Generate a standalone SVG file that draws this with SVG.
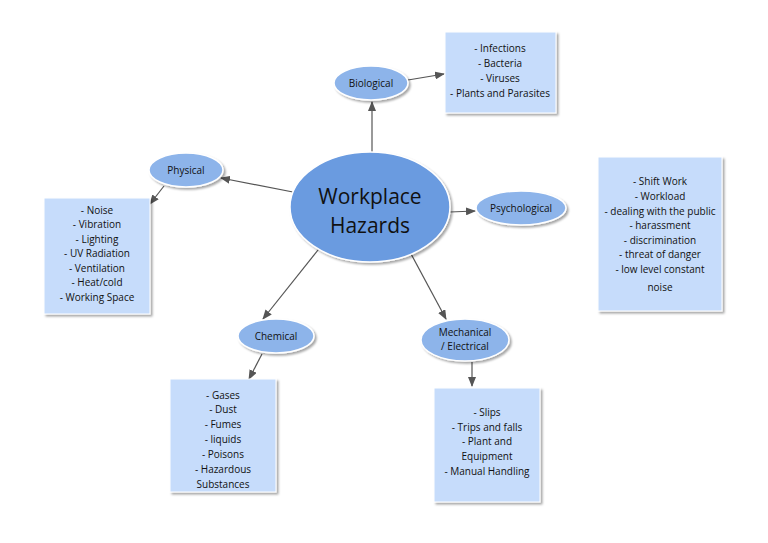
<svg xmlns="http://www.w3.org/2000/svg" width="768" height="543" viewBox="0 0 768 543">
<defs>
<marker id="ah" markerWidth="10" markerHeight="8" refX="9" refY="4" orient="auto" markerUnits="userSpaceOnUse"><path d="M0,0 L10,4 L0,8 z" fill="#555"/></marker>
<filter id="sh" x="-10%" y="-10%" width="130%" height="130%"><feDropShadow dx="2" dy="2" stdDeviation="1.2" flood-color="#000" flood-opacity="0.35"/></filter>
</defs>
<style>
.ell{fill:#8db4ea;stroke:#ffffff;stroke-width:1.5;filter:url(#sh)}
.box{fill:#c6dcfb;stroke:#ffffff;stroke-width:1;filter:url(#sh)}
text{font-family:"Open Sans","DejaVu Sans",sans-serif;fill:#111;text-anchor:middle}
.s{font-size:10px}
.c{stroke:#555;stroke-width:1.2;fill:none;marker-end:url(#ah)}
</style>
<rect width="768" height="543" fill="#fff"/>
<g id="connectors">
<line class="c" x1="372" y1="152" x2="372" y2="102"/>
<line class="c" x1="408" y1="80" x2="444" y2="74"/>
<line class="c" x1="298" y1="193" x2="221" y2="178"/>
<line class="c" x1="164" y1="186" x2="150" y2="204"/>
<line class="c" x1="450" y1="212" x2="475" y2="211"/>
<line class="c" x1="322" y1="245" x2="263" y2="319"/>
<line class="c" x1="262" y1="354" x2="249" y2="379"/>
<line class="c" x1="410" y1="252" x2="446" y2="319"/>
<line class="c" x1="472" y1="362" x2="472" y2="386"/>
</g>
<g id="center"><ellipse class="ell" cx="370" cy="207" rx="80" ry="55" fill="#6b9be0" style="fill:#6b9be0"/>
<text x="370" y="204" font-size="21">Workplace</text><text x="370" y="233" font-size="21">Hazards</text></g>
<g id="biological"><ellipse class="ell" cx="371" cy="83" rx="37" ry="17"/><text class="s" x="371" y="87">Biological</text></g>
<g id="bio-box"><rect class="box" x="445" y="32" width="111" height="81"/>
<text class="s" x="500" y="52">- Infections</text><text class="s" x="500" y="67">- Bacteria</text><text class="s" x="500" y="82">- Viruses</text><text class="s" x="500" y="97">- Plants and Parasites</text></g>
<g id="physical"><ellipse class="ell" cx="186" cy="170" rx="37" ry="17"/><text class="s" x="186" y="174">Physical</text></g>
<g id="phys-box"><rect class="box" x="44" y="198" width="106" height="116"/>
<text class="s" x="97" y="214">- Noise</text><text class="s" x="97" y="228">- Vibration</text><text class="s" x="97" y="243">- Lighting</text><text class="s" x="97" y="257">- UV Radiation</text><text class="s" x="97" y="272">- Ventilation</text><text class="s" x="97" y="286">- Heat/cold</text><text class="s" x="97" y="301">- Working Space</text></g>
<g id="psychological"><ellipse class="ell" cx="521" cy="208" rx="45" ry="17"/><text class="s" x="521" y="212">Psychological</text></g>
<g id="psych-box"><rect class="box" x="598" y="157" width="124" height="154"/>
<text class="s" x="660" y="185">- Shift Work</text><text class="s" x="660" y="200">- Workload</text><text class="s" x="660" y="215">- dealing with the public</text><text class="s" x="660" y="229">- harassment</text><text class="s" x="660" y="244">- discrimination</text><text class="s" x="660" y="258">- threat of danger</text><text class="s" x="660" y="273">- low level constant</text><text class="s" x="660" y="291">noise</text></g>
<g id="chemical"><ellipse class="ell" cx="276" cy="336" rx="38" ry="17"/><text class="s" x="276" y="340">Chemical</text></g>
<g id="chem-box"><rect class="box" x="170" y="379" width="106" height="113"/>
<text class="s" x="223" y="399">- Gases</text><text class="s" x="223" y="413">- Dust</text><text class="s" x="223" y="428">- Fumes</text><text class="s" x="223" y="443">- liquids</text><text class="s" x="223" y="458">- Poisons</text><text class="s" x="223" y="473">- Hazardous</text><text class="s" x="223" y="488">Substances</text></g>
<g id="mechanical"><ellipse class="ell" cx="465" cy="340" rx="44" ry="21"/><text class="s" x="465" y="336">Mechanical</text><text class="s" x="465" y="350">/ Electrical</text></g>
<g id="mech-box"><rect class="box" x="434" y="388" width="106" height="114"/>
<text class="s" x="487" y="416">- Slips</text><text class="s" x="487" y="431">- Trips and falls</text><text class="s" x="487" y="445">- Plant and</text><text class="s" x="487" y="460">Equipment</text><text class="s" x="487" y="475">- Manual Handling</text></g>
</svg>
